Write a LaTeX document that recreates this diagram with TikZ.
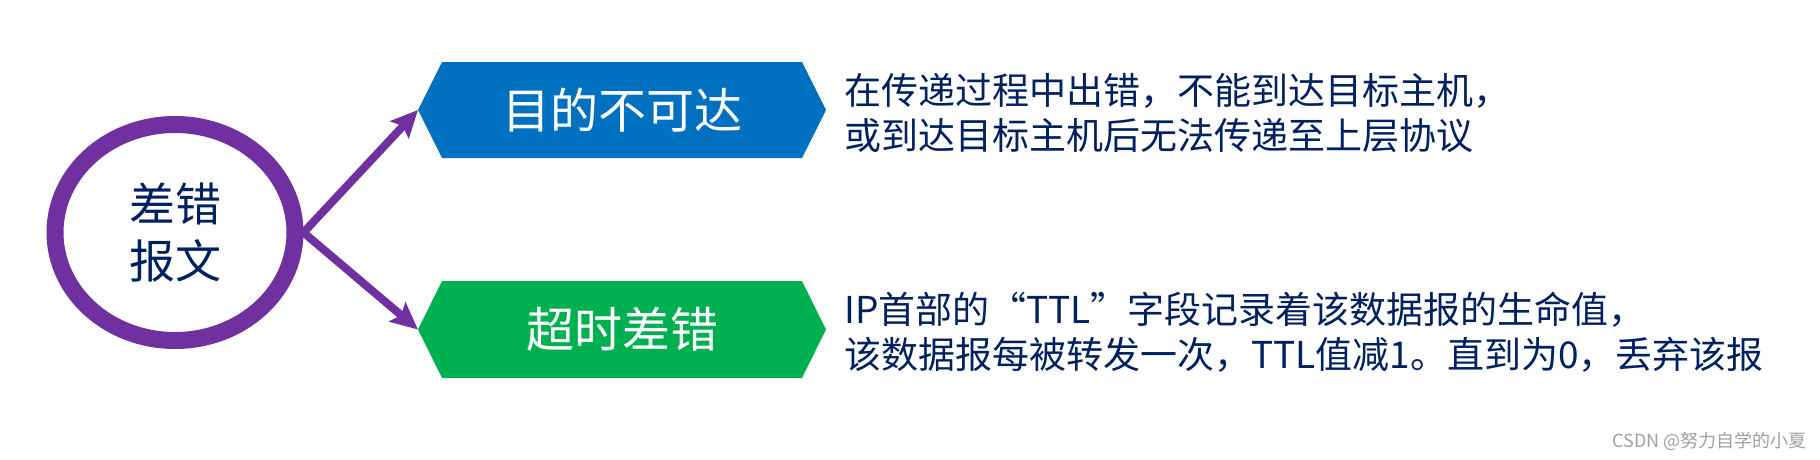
\documentclass[tikz,border=0pt]{standalone}
\usepackage{fontspec}
\setmainfont{Noto Sans CJK SC}
\usetikzlibrary{arrows.meta,shapes.geometric}
\definecolor{navy}{RGB}{0,32,96}
\definecolor{evpurple}{RGB}{112,48,160}
\definecolor{hexblue}{RGB}{0,112,192}
\definecolor{hexgreen}{RGB}{0,176,80}
\definecolor{wmgrey}{RGB}{160,160,160}
\tikzset{
  hextext/.style={text=white, inner sep=0pt, font=\fontsize{48}{56}\selectfont},
  desc/.style={text=navy, inner sep=0pt, anchor=west, align=left, font=\fontsize{37}{45}\selectfont},
  evarrow/.style={draw=evpurple, line width=8pt, -{Stealth[length=27pt,width=25pt,inset=5pt]}},
}
\begin{document}
\begin{tikzpicture}[x=1pt,y=-1pt]
\useasboundingbox (0,0) rectangle (1820,459);
% central ellipse
\node[ellipse, draw=evpurple, line width=17pt, minimum width=240pt, minimum height=216pt,
      inner sep=0pt, text=navy, align=center, font=\fontsize{46}{57}\selectfont] (circ) at (175,232.5) {差错\\报文};
% hexagons
\fill[hexblue] (418,110) -- (442,62) -- (802,62) -- (826,110) -- (802,158) -- (442,158) -- cycle;
\coordinate (bluetip) at (418,110);
\node[hextext] (blue) at (622,110) {目的不可达};
\fill[hexgreen] (418,329.5) -- (442,281) -- (802,281) -- (826,329.5) -- (802,378) -- (442,378) -- cycle;
\coordinate (greentip) at (418,329.5);
\node[hextext] (green) at (622,329.5) {超时差错};
% arrows
\draw[evarrow] (circ.east) -- (bluetip);
\draw[evarrow] (circ.east) -- (greentip);
% descriptions
\node[desc] (d1) at (844,113.5) {在传递过程中出错，不能到达目标主机，\\或到达目标主机后无法传递至上层协议};
\node[desc] (d2) at (844,332) {IP首部的“TTL”字段记录着该数据报的生命值，\\该数据报每被转发一次，TTL值减1。直到为0，丢弃该报};
% watermark
\node[anchor=east, inner sep=0pt, text=wmgrey, font=\fontsize{18}{20}\selectfont] (wm) at (1807,441) {CSDN @努力自学的小夏};
\end{tikzpicture}
\end{document}
